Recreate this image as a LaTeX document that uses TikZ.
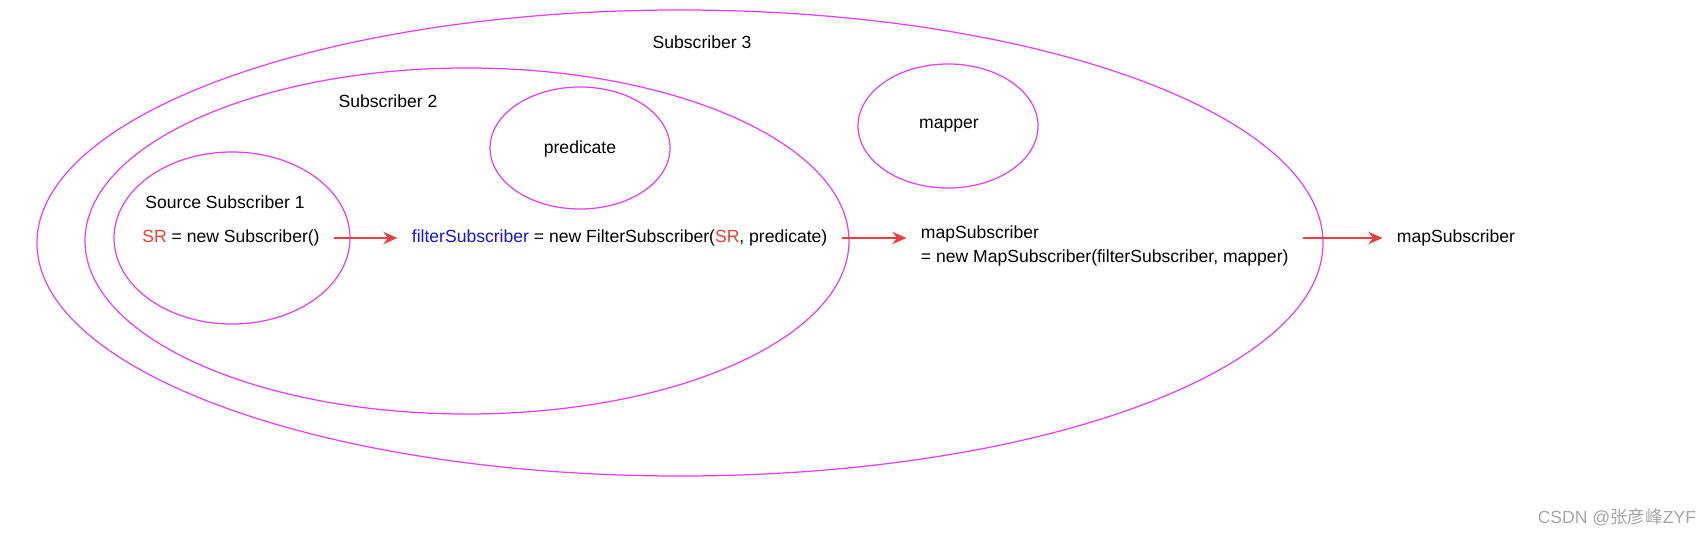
\documentclass[tikz,border=0pt]{standalone}
\usepackage{fontspec}
\setmainfont{Liberation Sans}
\newfontfamily\cjk{Noto Sans CJK SC}
\usetikzlibrary{arrows.meta}
\definecolor{ringmag}{RGB}{228,64,240}
\definecolor{arrred}{RGB}{232,64,64}
\definecolor{srred}{RGB}{240,60,50}
\definecolor{fsblue}{RGB}{20,20,220}
\begin{document}
\begin{tikzpicture}[x=0.02cm,y=-0.02cm,
    ring/.style={draw=ringmag, line width=0.7pt},
    txt/.style={font=\fontsize{10}{13.5}\selectfont, inner sep=2pt},
    flow/.style={draw=arrred, line width=1.5pt, -{Stealth[length=8pt,width=7pt]}, shorten <=6pt, shorten >=6pt}]
    \useasboundingbox (0,0) rectangle (1706,533);
    % rings
    \draw[ring] (680,243) ellipse [x radius=643, y radius=233];
    \draw[ring] (467,241) ellipse [x radius=382, y radius=173];
    \draw[ring] (232,238) ellipse [x radius=118, y radius=86];
    \draw[ring] (580,148) ellipse [x radius=90, y radius=61];
    \draw[ring] (948,126) ellipse [x radius=90, y radius=62];
    % titles
    \node[txt] (sub3) at (702,42) {Subscriber 3};
    \node[txt] (sub2) at (388,101) {Subscriber 2};
    \node[txt] (pred) at (580,149) {predicate};
    \node[txt] (mapr) at (949,126) {mapper};
    \node[txt] (src1) at (225,202) {Source Subscriber 1};
    % chain
    \node[txt] (sr) at (231,238) {\textcolor{srred}{SR} = new Subscriber()};
    \node[txt, anchor=west] (filt) at (408,238) {\textcolor{fsblue}{filterSubscriber} = new FilterSubscriber(\textcolor{srred}{SR}, predicate)};
    \node[txt, anchor=west, align=left] (maps) at (917,246) {mapSubscriber\\= new MapSubscriber(filterSubscriber, mapper)};
    \node[txt, anchor=west] (out) at (1393,238) {mapSubscriber};
    \draw[flow] (sr.east) -- (sr.east -| filt.west);
    \draw[flow] (filt.east) -- (filt.east -| maps.west);
    \draw[flow] (maps.east |- out.west) -- (out.west);
    \node[txt, text=gray!70, anchor=east] (mark) at (1700,517) {CSDN @{\cjk 张彦峰}ZYF};
\end{tikzpicture}
\end{document}
